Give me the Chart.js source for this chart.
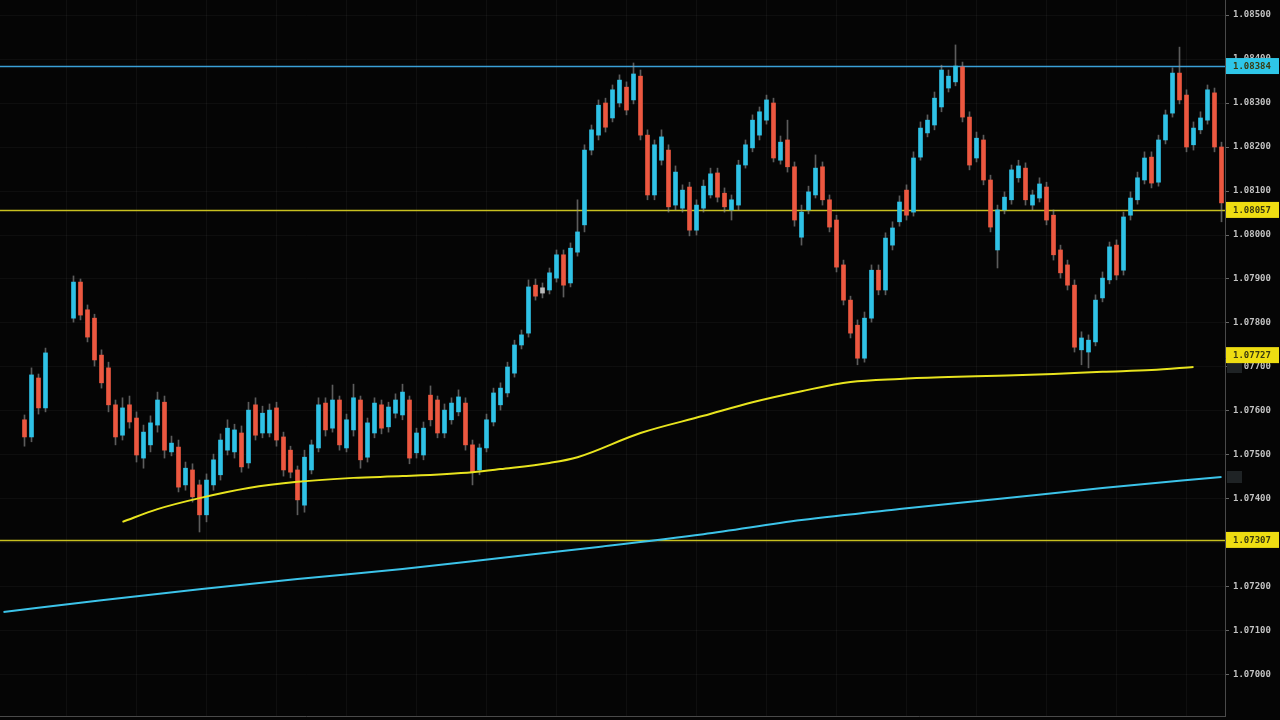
<!DOCTYPE html>
<html>
<head>
<meta charset="utf-8">
<script src="https://cdn.jsdelivr.net/npm/chart.js@4.4.1/dist/chart.umd.min.js"></script>
<style>
    html, body { margin: 0; padding: 0; background: #050505; }
    #wrap { width: 1280px; height: 720px; }
</style>
</head>
<body>
<div id="wrap"><canvas id="grafica" width="1280" height="720"></canvas></div>
<script>
// velas de 5 min, null = hueco sin cotizacion
const opens = [
    null, null, null, 1.07580, 1.07541, 1.07675, 1.07607, null, null, null,
    1.07811, 1.07893, 1.07830, 1.07811, 1.07727, 1.07698, 1.07614, 1.07545, 1.07614, 1.07584,
    1.07493, 1.07523, 1.07568, 1.07620, 1.07507, 1.07518, 1.07432, 1.07466, 1.07432, 1.07364,
    1.07432, 1.07455, 1.07511, 1.07507, 1.07550, 1.07482, 1.07614, 1.07550, 1.07550, 1.07607,
    1.07541, 1.07511, 1.07466, 1.07386, 1.07466, 1.07516, 1.07618, 1.07561, 1.07625, 1.07516,
    1.07557, 1.07625, 1.07495, 1.07550, 1.07614, 1.07564, 1.07595, 1.07591, 1.07625, 1.07505,
    1.07500, 1.07636, 1.07625, 1.07550, 1.07580, 1.07598, 1.07618, 1.07523, 1.07466, 1.07516,
    1.07575, 1.07614, 1.07641, 1.07686, 1.07750, 1.07777, 1.07886, 1.07880, 1.07875, 1.07902,
    1.07955, 1.07891, 1.07961, 1.08023, 1.08193, 1.08227, 1.08300, 1.08266, 1.08300, 1.08336,
    1.08307, 1.08361, 1.08227, 1.08091, 1.08170, 1.08193, 1.08068, 1.08061, 1.08109, 1.08011,
    1.08061, 1.08091, 1.08141, 1.08095, 1.08057, 1.08068, 1.08159, 1.08198, 1.08227, 1.08261,
    1.08300, 1.08170, 1.08216, 1.08155, 1.07995, 1.08057, 1.08091, 1.08155, 1.08080, 1.08034,
    1.07932, 1.07852, 1.07795, 1.07720, 1.07811, 1.07920, 1.07875, 1.07977, 1.08030, 1.08102,
    1.08052, 1.08177, 1.08232, 1.08250, 1.08291, 1.08334, 1.08348, 1.08382, 1.08268, 1.08175,
    1.08216, 1.08125, 1.07966, 1.08057, 1.08080, 1.08130, 1.08152, 1.08068, 1.08084, 1.08109,
    1.08045, 1.07966, 1.07932, 1.07886, 1.07739, 1.07734, 1.07757, 1.07857, 1.07898, 1.07977,
    1.07920, 1.08045, 1.08080, 1.08125, 1.08177, 1.08120, 1.08216, 1.08277, 1.08368, 1.08318,
    1.08205, 1.08239, 1.08261, 1.08323, 1.08200
];
const closes = [
    null, null, null, 1.07541, 1.07682, 1.07607, 1.07732, null, null, null,
    1.07893, 1.07818, 1.07768, 1.07716, 1.07664, 1.07614, 1.07541, 1.07607, 1.07575, 1.07500,
    1.07552, 1.07573, 1.07625, 1.07511, 1.07527, 1.07427, 1.07470, 1.07405, 1.07364, 1.07443,
    1.07489, 1.07534, 1.07561, 1.07557, 1.07473, 1.07602, 1.07545, 1.07595, 1.07602, 1.07534,
    1.07466, 1.07461, 1.07398, 1.07495, 1.07523, 1.07614, 1.07557, 1.07625, 1.07523, 1.07580,
    1.07630, 1.07489, 1.07573, 1.07618, 1.07561, 1.07609, 1.07625, 1.07643, 1.07493, 1.07550,
    1.07561, 1.07580, 1.07550, 1.07602, 1.07618, 1.07632, 1.07523, 1.07461, 1.07516, 1.07580,
    1.07641, 1.07652, 1.07700, 1.07750, 1.07773, 1.07882, 1.07861, 1.07868, 1.07914, 1.07955,
    1.07886, 1.07970, 1.08007, 1.08193, 1.08239, 1.08295, 1.08245, 1.08330, 1.08352, 1.08284,
    1.08366, 1.08227, 1.08091, 1.08205, 1.08223, 1.08064, 1.08143, 1.08102, 1.08011, 1.08068,
    1.08111, 1.08139, 1.08086, 1.08064, 1.08080, 1.08159, 1.08205, 1.08261, 1.08280, 1.08307,
    1.08175, 1.08211, 1.08155, 1.08034, 1.08052, 1.08098, 1.08152, 1.08080, 1.08018, 1.07927,
    1.07852, 1.07777, 1.07720, 1.07811, 1.07920, 1.07875, 1.07993, 1.08016, 1.08075, 1.08045,
    1.08175, 1.08243, 1.08261, 1.08311, 1.08375, 1.08361, 1.08384, 1.08268, 1.08159, 1.08220,
    1.08125, 1.08018, 1.08057, 1.08086, 1.08148, 1.08157, 1.08080, 1.08091, 1.08116, 1.08034,
    1.07955, 1.07914, 1.07886, 1.07745, 1.07766, 1.07761, 1.07852, 1.07902, 1.07973, 1.07909,
    1.08041, 1.08084, 1.08130, 1.08175, 1.08118, 1.08216, 1.08273, 1.08368, 1.08307, 1.08200,
    1.08243, 1.08266, 1.08330, 1.08200, 1.08073
];
const highs = [
    null, null, null, 1.07591, 1.07698, 1.07684, 1.07743, null, null, null,
    1.07907, 1.07900, 1.07841, 1.07820, 1.07739, 1.07711, 1.07625, 1.07630, 1.07634, 1.07598,
    1.07568, 1.07589, 1.07643, 1.07634, 1.07543, 1.07534, 1.07484, 1.07480, 1.07443, 1.07457,
    1.07502, 1.07548, 1.07580, 1.07570, 1.07566, 1.07620, 1.07630, 1.07611, 1.07616, 1.07620,
    1.07552, 1.07520, 1.07475, 1.07511, 1.07534, 1.07630, 1.07630, 1.07659, 1.07634, 1.07593,
    1.07661, 1.07634, 1.07584, 1.07630, 1.07625, 1.07620, 1.07639, 1.07661, 1.07634, 1.07561,
    1.07575, 1.07657, 1.07634, 1.07616, 1.07630, 1.07648, 1.07630, 1.07534, 1.07525, 1.07593,
    1.07652, 1.07664, 1.07711, 1.07761, 1.07784, 1.07898, 1.07900, 1.07891, 1.07925, 1.07966,
    1.07966, 1.07982, 1.08080, 1.08205, 1.08250, 1.08307, 1.08311, 1.08341, 1.08364, 1.08348,
    1.08391, 1.08375, 1.08239, 1.08216, 1.08239, 1.08205, 1.08157, 1.08114, 1.08120, 1.08080,
    1.08125, 1.08152, 1.08152, 1.08107, 1.08091, 1.08170, 1.08216, 1.08273, 1.08291, 1.08318,
    1.08311, 1.08225, 1.08261, 1.08166, 1.08068, 1.08111, 1.08182, 1.08166, 1.08091, 1.08045,
    1.07943, 1.07861, 1.07807, 1.07825, 1.07932, 1.07932, 1.08005, 1.08030, 1.08089, 1.08114,
    1.08189, 1.08257, 1.08273, 1.08325, 1.08386, 1.08375, 1.08432, 1.08393, 1.08280, 1.08234,
    1.08227, 1.08136, 1.08068, 1.08098, 1.08159, 1.08170, 1.08164, 1.08102, 1.08130, 1.08120,
    1.08057, 1.07977, 1.07943, 1.07898, 1.07780, 1.07773, 1.07864, 1.07916, 1.07984, 1.07989,
    1.08052, 1.08098, 1.08143, 1.08189, 1.08189, 1.08227, 1.08284, 1.08380, 1.08427, 1.08330,
    1.08257, 1.08280, 1.08341, 1.08334, 1.08211
];
const lows = [
    null, null, null, 1.07520, 1.07530, 1.07593, 1.07598, null, null, null,
    1.07802, 1.07807, 1.07757, 1.07702, 1.07652, 1.07598, 1.07523, 1.07534, 1.07561, 1.07484,
    1.07470, 1.07507, 1.07552, 1.07493, 1.07498, 1.07416, 1.07420, 1.07393, 1.07325, 1.07348,
    1.07420, 1.07443, 1.07500, 1.07493, 1.07461, 1.07470, 1.07534, 1.07539, 1.07541, 1.07520,
    1.07452, 1.07448, 1.07364, 1.07370, 1.07457, 1.07507, 1.07543, 1.07552, 1.07511, 1.07507,
    1.07543, 1.07470, 1.07484, 1.07539, 1.07548, 1.07552, 1.07584, 1.07580, 1.07480, 1.07493,
    1.07489, 1.07566, 1.07539, 1.07539, 1.07570, 1.07589, 1.07511, 1.07432, 1.07455, 1.07507,
    1.07566, 1.07602, 1.07632, 1.07677, 1.07741, 1.07768, 1.07852, 1.07857, 1.07866, 1.07893,
    1.07859, 1.07882, 1.07952, 1.08007, 1.08182, 1.08216, 1.08234, 1.08257, 1.08291, 1.08273,
    1.08298, 1.08216, 1.08080, 1.08080, 1.08159, 1.08052, 1.08057, 1.08052, 1.07998, 1.08000,
    1.08052, 1.08084, 1.08075, 1.08052, 1.08034, 1.08057, 1.08152, 1.08189, 1.08216, 1.08252,
    1.08166, 1.08161, 1.08143, 1.08020, 1.07977, 1.08048, 1.08084, 1.08068, 1.08007, 1.07916,
    1.07841, 1.07766, 1.07705, 1.07711, 1.07802, 1.07864, 1.07864, 1.07966, 1.08020, 1.08034,
    1.08043, 1.08170, 1.08223, 1.08239, 1.08280, 1.08325, 1.08339, 1.08257, 1.08148, 1.08166,
    1.08114, 1.08007, 1.07925, 1.08048, 1.08070, 1.08120, 1.08068, 1.08057, 1.08075, 1.08023,
    1.07943, 1.07902, 1.07875, 1.07734, 1.07705, 1.07698, 1.07748, 1.07848, 1.07889, 1.07898,
    1.07909, 1.08034, 1.08070, 1.08116, 1.08107, 1.08111, 1.08207, 1.08268, 1.08298, 1.08189,
    1.08193, 1.08230, 1.08252, 1.08189, 1.08030
];

// medias moviles: indice de vela y valor
const yellowMaAt = [17, 22, 28, 35, 42, 50, 57, 67, 71, 78, 82, 91, 100, 107, 114, 121, 128, 135, 142, 150, 157, 164, 170];
const yellowMa = [1.07348, 1.07377, 1.07402, 1.07425, 1.07439, 1.07448, 1.07452, 1.07461, 1.07468, 1.07482, 1.07495, 1.07550,
    1.07589, 1.07620, 1.07645, 1.07666, 1.07673, 1.07677, 1.07680, 1.07684, 1.07689, 1.07693, 1.07700];
const cyanMaAt = [0, 14, 28, 42, 57, 71, 85, 100, 114, 128, 142, 157, 174];
const cyanMa = [1.07143, 1.07170, 1.07195, 1.07218, 1.07241, 1.07266, 1.07291, 1.07320, 1.07352, 1.07377, 1.07400, 1.07425, 1.07450];

// niveles horizontales y etiquetas del eje
const levels = [1.08384, 1.08057, 1.07307];
const levelColors = ['#3a9fd6', '#c8c020', '#c8c020'];
const tagValues = [1.08384, 1.08057, 1.07727, 1.07307];
const tagColors = ['#2ec6e8', '#eedd12', '#eedd12', '#eedd12'];

const priceTicks = [1.070, 1.071, 1.072, 1.073, 1.074, 1.075, 1.076, 1.077, 1.078, 1.079, 1.080, 1.081, 1.082, 1.083, 1.084, 1.085];

const times = opens.map((_, i) => {
    const m = 6 * 60 + i * 5;
    return String(Math.floor(m / 60)).padStart(2, '0') + ':' + String(m % 60).padStart(2, '0');
});

function main() {
    const ctx = document.getElementById('grafica').getContext('2d');

    const UP = '#2fc2e6';
    const DOWN = '#ec5840';
    const DOJI = '#b9b9b9';

    const bodyData = opens.map((o, i) => o == null ? null : [o, closes[i]]);
    const wickData = lows.map((l, i) => l == null ? null : [l, highs[i]]);
    const bodyColors = opens.map((o, i) => {
        if (o == null) return 'transparent';
        if (Math.abs(closes[i] - o) < 0.00012) return DOJI;
        return closes[i] > o ? UP : DOWN;
    });

    const levelPlugin = {
        id: 'niveles',
        beforeDatasetsDraw(chart) {
            const { ctx, chartArea, scales: { y } } = chart;
            ctx.save();
            ctx.lineWidth = 1.5;
            levels.forEach((v, i) => {
                const py = Math.round(y.getPixelForValue(v)) + 0.5;
                ctx.strokeStyle = levelColors[i];
                ctx.beginPath();
                ctx.moveTo(chartArea.left, py);
                ctx.lineTo(chartArea.right, py);
                ctx.stroke();
            });
            ctx.restore();
        },
        afterDraw(chart) {
            const { ctx, chartArea, scales: { y } } = chart;
            ctx.save();
            // marcas tenues de las medias en el eje
            [yellowMa[yellowMa.length - 1], cyanMa[cyanMa.length - 1]].forEach(v => {
                const py = y.getPixelForValue(v);
                ctx.fillStyle = '#1f2325';
                ctx.fillRect(chartArea.right + 2, py - 6, 15, 12);
            });
            ctx.font = 'bold 9px "DejaVu Sans Mono"';
            ctx.textBaseline = 'middle';
            tagValues.forEach((v, i) => {
                const py = y.getPixelForValue(v);
                ctx.fillStyle = tagColors[i];
                ctx.fillRect(chartArea.right + 1, py - 8, 53, 16);
                ctx.fillStyle = '#3a3a10';
                ctx.fillText(v.toFixed(5), chartArea.right + 8, py + 1);
            });
            ctx.restore();
        }
    };

    const config = {
        type: 'bar',
        data: {
            labels: times,
            datasets: [
                {
                    type: 'line',
                    data: yellowMaAt.map((k, j) => ({ x: times[k], y: yellowMa[j] })),
                    borderColor: '#e8e41e',
                    borderWidth: 2,
                    pointRadius: 0,
                    cubicInterpolationMode: 'monotone',
                    order: -2
                },
                {
                    type: 'line',
                    data: cyanMaAt.map((k, j) => ({ x: times[k], y: cyanMa[j] })),
                    borderColor: '#3cc4ea',
                    borderWidth: 2,
                    pointRadius: 0,
                    cubicInterpolationMode: 'monotone',
                    order: -1
                },
                {
                    data: bodyData,
                    backgroundColor: bodyColors,
                    barThickness: 4,
                    grouped: false,
                    minBarLength: 1,
                    order: 0
                },
                {
                    data: wickData,
                    backgroundColor: 'rgba(150,150,150,0.6)',
                    barThickness: 1,
                    grouped: false,
                    order: 1
                }
            ]
        },
        options: {
            responsive: false,
            animation: false,
            devicePixelRatio: 1,
            layout: { padding: { left: 0, right: 0, top: 0, bottom: 4 } },
            plugins: {
                legend: { display: false },
                tooltip: { enabled: false }
            },
            scales: {
                x: {
                    offset: true,
                    ticks: { display: false },
                    grid: {
                        offset: false,
                        drawTicks: false,
                        color: c => (c.index % 10 === 9 ? 'rgba(255,255,255,0.045)' : 'transparent')
                    },
                    border: { color: '#4a4a4a' }
                },
                y: {
                    position: 'right',
                    min: 1.069068,
                    max: 1.085341,
                    afterBuildTicks: s => { s.ticks = priceTicks.map(v => ({ value: v })); },
                    afterFit: s => { s.width = 55; s.paddingTop = 0; s.paddingBottom = 0; },
                    ticks: {
                        color: '#c2c2c2',
                        padding: 4,
                        font: { family: 'DejaVu Sans Mono', size: 9, weight: 'bold' },
                        callback: v => Number(v).toFixed(5)
                    },
                    grid: {
                        color: 'rgba(255,255,255,0.04)',
                        tickColor: '#666',
                        tickLength: 4
                    },
                    border: { color: '#4a4a4a' }
                }
            }
        },
        plugins: [levelPlugin]
    };

    window.myChart = new Chart(ctx, config);
}

document.addEventListener('DOMContentLoaded', function() {
    main();
});
</script>
</body>
</html>
